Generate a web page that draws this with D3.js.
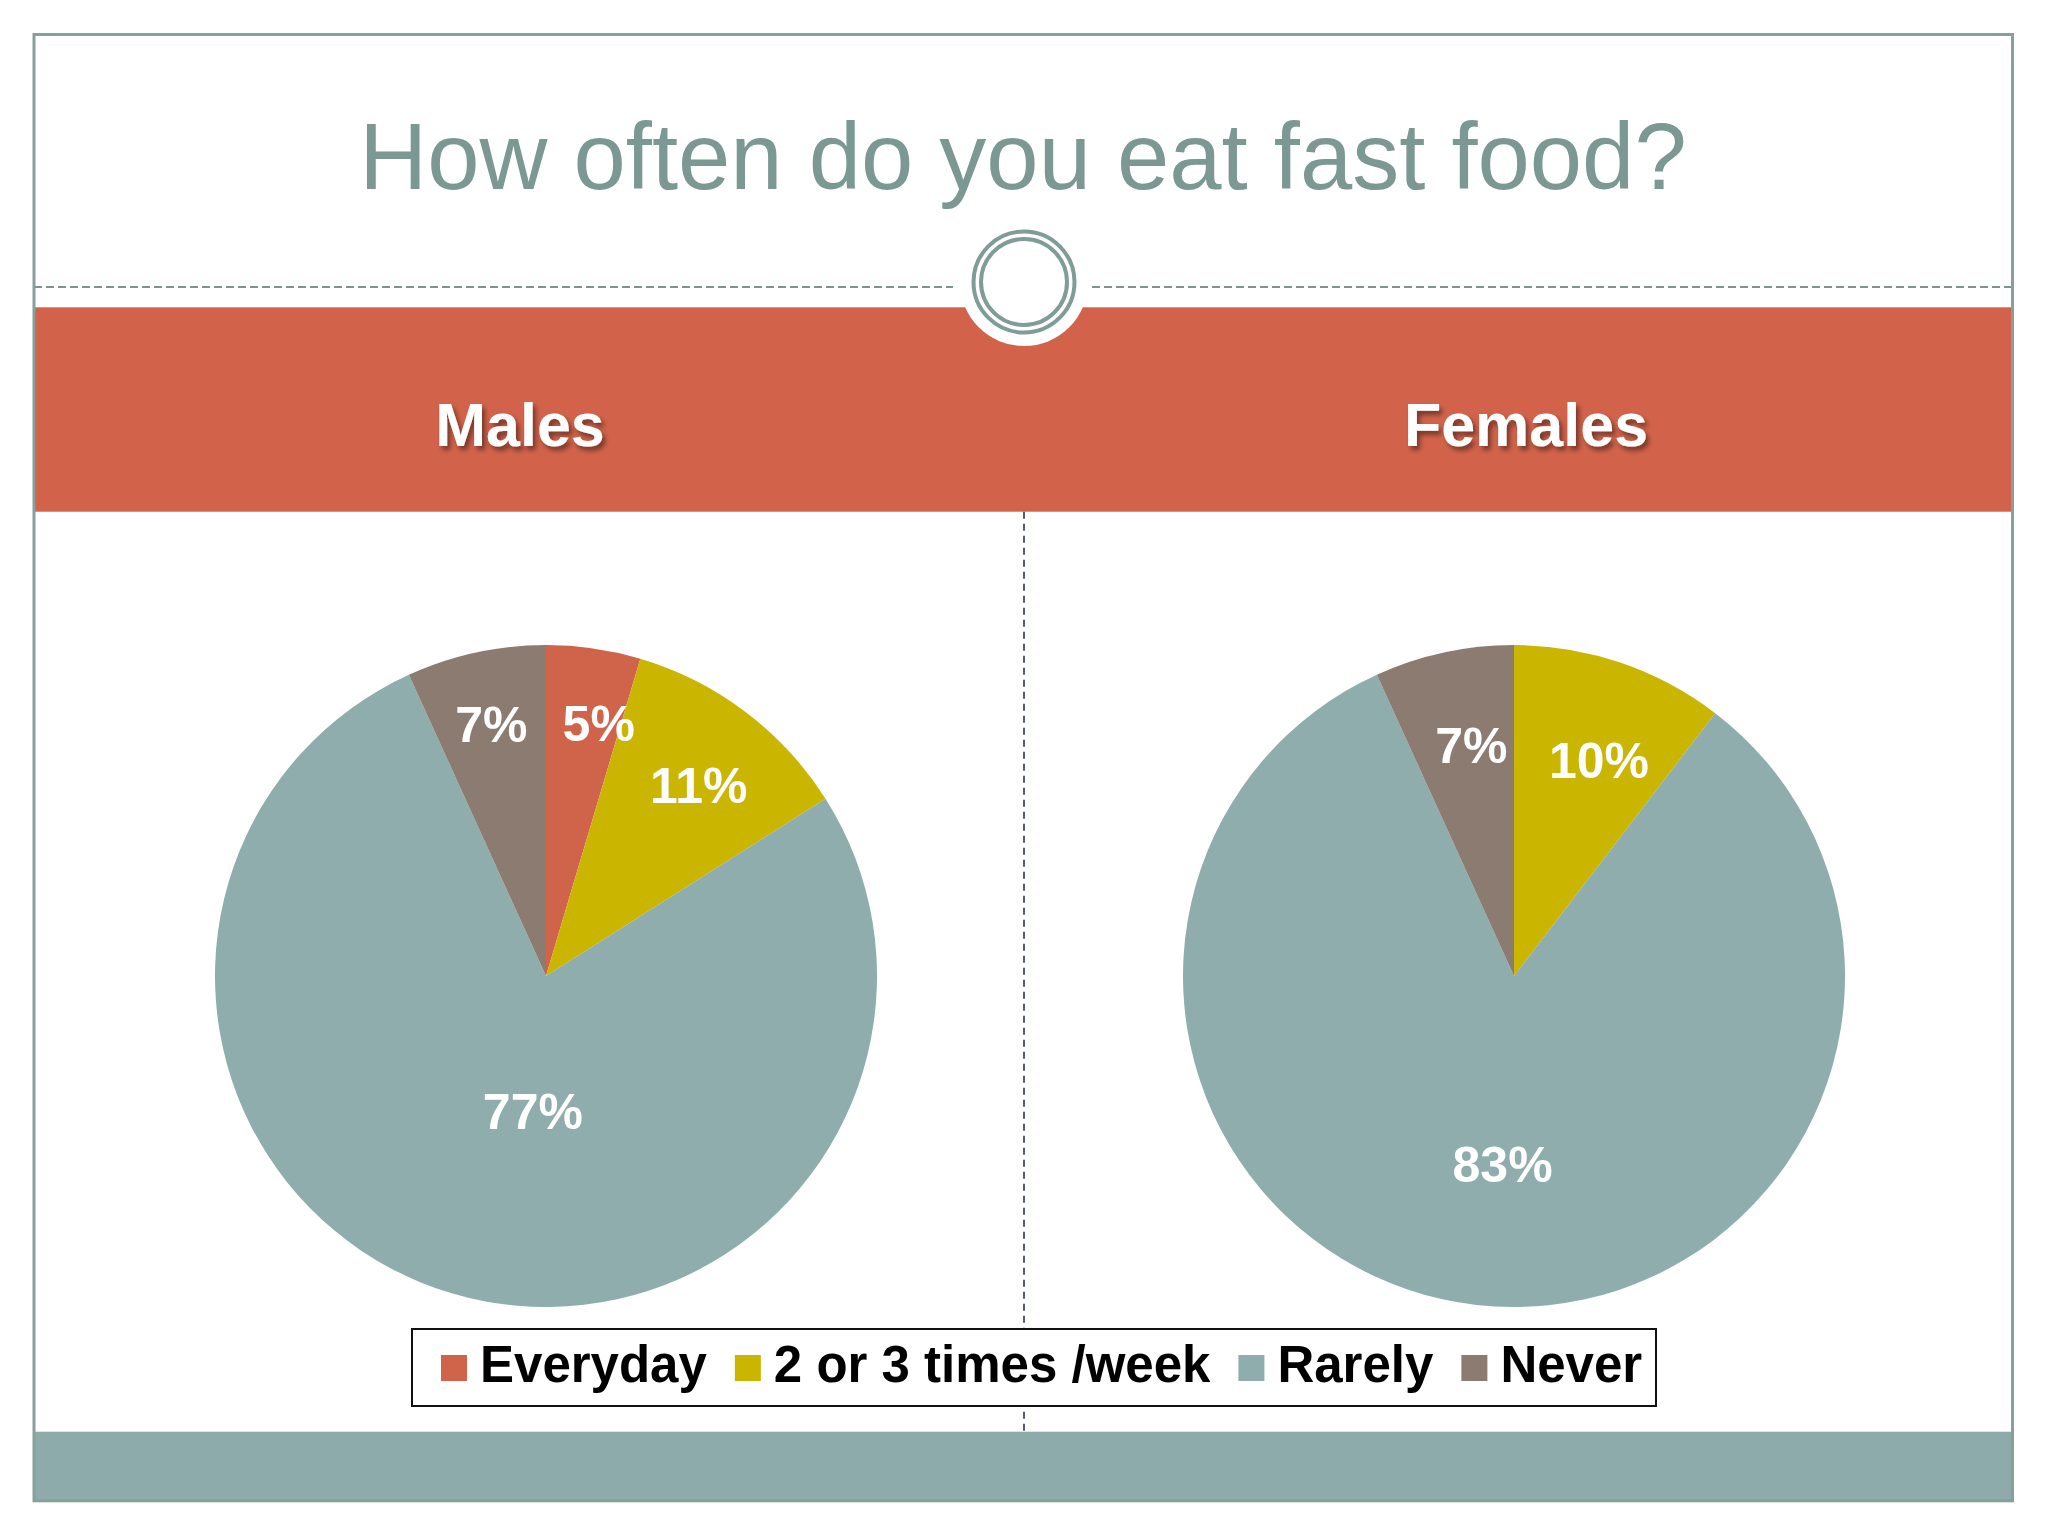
<!DOCTYPE html>
<html>
<head>
<meta charset="utf-8">
<script src="https://cdn.jsdelivr.net/npm/d3@7"></script>
<style>
  body { margin: 0; background: #fff; }
  svg { display: block; }
</style>
</head>
<body>
<div id="chart"></div>
<script>
// data (slice sizes estimated from the wedges, labels are rounded)
var title = "How often do you eat fast food?";
var groups = ["Males", "Females"];
var categories = ["Everyday", "2 or 3 times /week", "Rarely", "Never"];
var malesValues = [4.6, 11.4, 77.2, 6.8];
var femalesValues = [0, 10.4, 82.8, 6.8];

var sliceColors = ["#d0644a", "#cab500", "#8fadac", "#8c7b71"];

// label placement: fraction of radius and small angle nudge (deg), per slice
var labelLayout = {
    Males: [{ r: 0.78, a: 3.5 }, { r: 0.74, a: 1.5 }, { r: 0.41, a: -11 }, { r: 0.78, a: 0 }],
    Females: [{ r: 0.7, a: 0 }, { r: 0.70, a: 2.8 }, { r: 0.57, a: -3 }, { r: 0.71, a: 1.8 }]
};

var width = 2048;
var height = 1536;
var frame = { left: 34, top: 34.5, right: 2012.5, bottom: 1500.8 };
var band = { top: 307.3, bottom: 511.7 };
var midX = 1024;
var radius = 331;
var pieY = 976;

var svg = d3.select('#chart')
    .append('svg')
    .attr('width', width)
    .attr('height', height);

var defs = svg.append('defs');
var shadow = defs.append('filter')
    .attr('id', 'shadow')
    .attr('x', '-20%').attr('y', '-20%')
    .attr('width', '140%').attr('height', '160%');
shadow.append('feDropShadow')
    .attr('dx', 3).attr('dy', 4)
    .attr('stdDeviation', 2.5)
    .attr('flood-color', '#000')
    .attr('flood-opacity', 0.45);

// red header band with a white notch for the ring
svg.append('rect')
    .attr('x', frame.left).attr('y', band.top)
    .attr('width', frame.right - frame.left)
    .attr('height', band.bottom - band.top)
    .attr('fill', '#d2634a');

svg.append('circle')
    .attr('cx', midX).attr('cy', 282)
    .attr('r', 64)
    .attr('fill', '#fff');

// dashed rule under the title
var ruleColor = "#7f9490";
[[frame.left, 953], [1092, frame.right]].forEach(function (seg) {
    svg.append('line')
        .attr('x1', seg[0]).attr('x2', seg[1])
        .attr('y1', 287).attr('y2', 287)
        .attr('stroke', ruleColor)
        .attr('stroke-width', 2)
        .attr('stroke-dasharray', '8 4');
});

// double ring
[50.5, 43].forEach(function (r) {
    svg.append('circle')
        .attr('cx', midX).attr('cy', 282)
        .attr('r', r)
        .attr('fill', 'none')
        .attr('stroke', '#7f9c97')
        .attr('stroke-width', 4);
});

// title
svg.append('text')
    .attr('x', 1023).attr('y', 189)
    .attr('text-anchor', 'middle')
    .attr('font-family', '"Liberation Sans", Arial, sans-serif')
    .attr('font-size', 94)
    .attr('fill', '#7b9893')
    .text(title);

// group headers
var headerX = d3.scaleOrdinal().domain(groups).range([520, 1526]);
svg.selectAll('.header')
    .data(groups)
    .enter()
    .append('text')
    .attr('class', 'header')
    .attr('x', d => headerX(d))
    .attr('y', 446)
    .attr('text-anchor', 'middle')
    .attr('font-family', '"Liberation Sans", Arial, sans-serif')
    .attr('font-weight', 'bold')
    .attr('font-size', 61)
    .attr('fill', '#fff')
    .attr('filter', 'url(#shadow)')
    .text(d => d);

// vertical dashed divider
svg.append('line')
    .attr('x1', midX).attr('x2', midX)
    .attr('y1', band.bottom).attr('y2', 1432)
    .attr('stroke', '#555c6c')
    .attr('stroke-width', 2)
    .attr('stroke-dasharray', '7 5');

// bottom teal band
svg.append('rect')
    .attr('x', frame.left).attr('y', 1431.7)
    .attr('width', frame.right - frame.left)
    .attr('height', frame.bottom - 1431.7)
    .attr('fill', '#8eabab');

// pies
var color = d3.scaleOrdinal().domain(categories).range(sliceColors);
var pieX = d3.scaleOrdinal().domain(groups).range([546, 1514]);
var pie = d3.pie().sort(null).value(d => d.value);
var arc = d3.arc().innerRadius(0).outerRadius(radius);

var series = { Males: malesValues, Females: femalesValues };

groups.forEach(function (g) {
    var rows = categories.map((c, i) => ({ cat: c, value: series[g][i], i: i }));
    var arcs = pie(rows);
    var pg = svg.append('g')
        .attr('transform', 'translate(' + pieX(g) + ',' + pieY + ')');

    pg.selectAll('path')
        .data(arcs)
        .enter()
        .append('path')
        .attr('d', arc)
        .attr('fill', d => color(d.data.cat));

    pg.selectAll('text')
        .data(arcs.filter(d => d.data.value > 0))
        .enter()
        .append('text')
        .attr('transform', function (d) {
            var lay = labelLayout[g][d.data.i];
            var a = (d.startAngle + d.endAngle) / 2 + lay.a * Math.PI / 180;
            var r = lay.r * radius;
            return 'translate(' + (r * Math.sin(a)) + ',' + (-r * Math.cos(a)) + ')';
        })
        .attr('dy', '0.36em')
        .attr('text-anchor', 'middle')
        .attr('font-family', '"Liberation Sans", Arial, sans-serif')
        .attr('font-weight', 'bold')
        .attr('font-size', 50)
        .attr('fill', '#fff')
        .text(d => Math.round(d.data.value) + '%');
});

// legend
svg.append('rect')
    .attr('x', 412).attr('y', 1329)
    .attr('width', 1656 - 412).attr('height', 1406 - 1329)
    .attr('fill', '#fff')
    .attr('stroke', '#111')
    .attr('stroke-width', 2);

var lg = svg.append('g');
var lx = 441;
categories.forEach(function (c) {
    lg.append('rect')
        .attr('x', lx).attr('y', 1355)
        .attr('width', 26).attr('height', 26)
        .attr('fill', color(c));
    var t = lg.append('text')
        .attr('x', lx + 39).attr('y', 1382)
        .attr('font-family', '"Liberation Sans", Arial, sans-serif')
        .attr('font-weight', 'bold')
        .attr('font-size', 51)
        .attr('fill', '#000')
        .text(c);
    lx = lx + 39 + t.node().getComputedTextLength() + 28;
});

// outer frame
svg.append('rect')
    .attr('x', frame.left).attr('y', frame.top)
    .attr('width', frame.right - frame.left)
    .attr('height', frame.bottom - frame.top)
    .attr('fill', 'none')
    .attr('stroke', '#86a09c')
    .attr('stroke-width', 3);
</script>
</body>
</html>
